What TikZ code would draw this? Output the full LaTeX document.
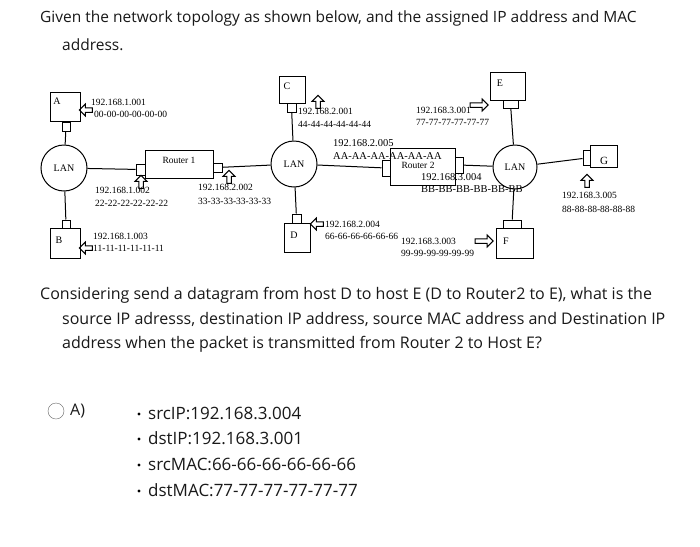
\documentclass[tikz,border=0pt]{standalone}
\usepackage{fontspec}
\setmainfont{Liberation Serif}
\newfontfamily\qfont{Open Sans}
\usetikzlibrary{shapes.arrows}
\begin{document}
\begin{tikzpicture}[x=1pt,y=-1pt,
  hostbox/.style={draw,line width=1pt,fill=white,inner sep=0},
  port/.style={draw,line width=1pt,fill=white,inner sep=0},
  lan/.style={draw,line width=1pt,circle,minimum size=46pt,inner sep=0,font=\fontsize{10}{11}\selectfont},
  lbl/.style={anchor=west,inner sep=0,font=\fontsize{9.5}{11}\selectfont},
  letter/.style={font=\fontsize{10}{11}\selectfont},
  harr/.style={draw,line width=1pt,single arrow,minimum height=13pt,minimum width=12pt,single arrow head extend=2.5pt,inner sep=1pt},
  q/.style={anchor=west,inner sep=0,font=\qfont\fontsize{15.5}{18}\selectfont,text=black!90},
  qb/.style={anchor=west,inner sep=0,font=\qfont\fontsize{16}{18}\selectfont,text=black!90},
  qc/.style={anchor=west,inner sep=0,font=\qfont\fontsize{17}{19}\selectfont,text=black!90},
  wire/.style={line width=1pt}]
\useasboundingbox (0,0) rectangle (700,546);
\fill[white] (0,0) rectangle (700,546);
% question header
\node[q] (h1) at (40,18) {Given the network topology as shown below, and the assigned IP address and MAC};
\node[q] (h2) at (62,45) {address.};
% LAN 1
\node[lan] (lan1) at (64,168) {LAN};
\node[hostbox,minimum width=30pt,minimum height=29pt] (A) at (65,107) {};
\node[letter] at (57,101) {A};
\node[port,minimum width=8pt,minimum height=9pt] (Ap) at (66,126.5) {};
\node[hostbox,minimum width=30pt,minimum height=30pt] (B) at (65,243) {};
\node[letter] at (59,240) {B};
\node[port,minimum width=8pt,minimum height=8pt] (Bp) at (66,224) {};
\draw[wire] (Ap) -- (lan1) (lan1) -- (Bp);
\node[harr,shape border rotate=180] (aA) at (87,110) {};
\node[lbl] at (91,102) {192.168.1.001};
\node[lbl] at (94,114) {00-00-00-00-00-00};
\node[harr,shape border rotate=180] (aB) at (87,248) {};
\node[lbl] at (93,236) {192.168.1.003};
\node[lbl] at (93,248) {11-11-11-11-11-11};
% Router 1
\node[hostbox,minimum width=68pt,minimum height=28pt] (R1) at (179,164) {};
\node[font=\fontsize{9.5}{11}\selectfont] at (179,160) {Router 1};
\node[port,minimum width=9pt,minimum height=11pt] (R1l) at (140.5,169.5) {};
\node[port,minimum width=9pt,minimum height=9pt] (R1r) at (217.5,167.5) {};
\draw[wire] (lan1) -- (R1l);
\node[harr,shape border rotate=90] at (141,183) {};
\node[lbl] at (95,190) {192.168.1.002};
\node[lbl] at (95,203) {22-22-22-22-22-22};
\node[harr,shape border rotate=90] at (229,178) {};
\node[lbl] at (198,187) {192.168.2.002};
\node[lbl] at (198,201) {33-33-33-33-33-33};
% LAN 2
\node[lan] (lan2) at (294,164) {LAN};
\draw[wire] (R1r) -- (lan2);
\node[hostbox,minimum width=26pt,minimum height=27pt] (C) at (292,89.5) {};
\node[letter] at (287,86) {C};
\node[port,minimum width=9pt,minimum height=9pt] (Cp) at (291.5,107.5) {};
\draw[wire] (Cp) -- (lan2);
\node[harr,shape border rotate=90] at (318,103) {};
\node[lbl] at (298,111) {192.168.2.001};
\node[lbl] at (298,124) {44-44-44-44-44-44};
\node[hostbox,minimum width=26pt,minimum height=29pt] (D) at (297,237.5) {};
\node[letter] at (294,235) {D};
\node[port,minimum width=9pt,minimum height=9pt] (Dp) at (296.5,218.5) {};
\draw[wire] (lan2) -- (Dp);
\node[harr,shape border rotate=180] at (318,224) {};
\node[lbl] at (325,224) {192.168.2.004};
\node[lbl] at (325,236) {66-66-66-66-66-66};
% Router 2
\node[hostbox,minimum width=65pt,minimum height=37pt] (R2) at (422.5,166.5) {};
\node[font=\fontsize{9.5}{11}\selectfont] at (418,165) {Router 2};
\node[port,minimum width=8pt,minimum height=16pt] (R2l) at (386,168) {};
\node[port,minimum width=8pt,minimum height=16pt] (R2r) at (459,165) {};
\draw[wire] (lan2) -- (R2l);
\node[lbl,font=\fontsize{10.5}{12}\selectfont] at (333,143) {192.168.2.005};
\node[lbl,font=\fontsize{10.5}{12}\selectfont] at (333,156) {AA-AA-AA-AA-AA-AA};
\node[lbl,font=\fontsize{10.5}{12}\selectfont] at (421,177) {192.168.3.004};
\node[lbl,font=\fontsize{10.5}{12}\selectfont] at (421,189) {BB-BB-BB-BB-BB-BB};
% LAN 3
\node[lan,minimum size=44pt] (lan3) at (515,167) {LAN};
\draw[wire] (R2r) -- (lan3);
\node[hostbox,minimum width=35pt,minimum height=28pt] (E) at (507.5,86) {};
\node[letter] at (500,83) {E};
\node[port,minimum width=15pt,minimum height=8pt] (Ep) at (510.5,104) {};
\draw[wire] (Ep) -- (lan3);
\node[harr,minimum height=18pt] at (478,105) {};
\node[lbl] at (416,110) {192.168.3.001};
\node[lbl] at (416,122) {77-77-77-77-77-77};
\node[hostbox,minimum width=27pt,minimum height=22pt] (G) at (603.5,156) {};
\node[letter,font=\fontsize{11}{12}\selectfont] at (604,161) {G};
\node[port,minimum width=7pt,minimum height=15pt] (Gp) at (586.5,158) {};
\draw[wire] (lan3) -- (Gp);
\node[harr,shape border rotate=90] at (587,182) {};
\node[lbl] at (562,195) {192.168.3.005};
\node[lbl] at (562,209) {88-88-88-88-88-88};
\node[hostbox,minimum width=37pt,minimum height=30pt] (F) at (514.5,243) {};
\node[letter] at (506,241) {F};
\node[port,minimum width=18pt,minimum height=8pt] (Fp) at (512,224) {};
\draw[wire] (lan3) -- (Fp);
\node[harr,minimum height=18pt] at (483,241) {};
\node[lbl] at (401,241) {192.168.3.003};
\node[lbl] at (401,253) {99-99-99-99-99-99};
% question
\node[qb] at (40,295) {Considering send a datagram from host D to host E (D to Router2 to E), what is the};
\node[qb] at (62,319) {source IP adresss, destination IP address, source MAC address and Destination IP};
\node[qb] at (62,344) {address when the packet is transmitted from Router 2 to Host E?};
\node[draw=black!60,circle,minimum size=16pt,inner sep=0] (rad) at (56,411) {};
\node[qb] at (70,411) {A)};
\foreach \y/\t in {413/srcIP:192.168.3.004,438/dstIP:192.168.3.001,464/srcMAC:66-66-66-66-66-66,490/dstMAC:77-77-77-77-77-77}{
  \fill (139,\y+1) circle (1.7pt);
  \node[qc] at (148,\y) {\t};
}
\end{tikzpicture}
\end{document}
